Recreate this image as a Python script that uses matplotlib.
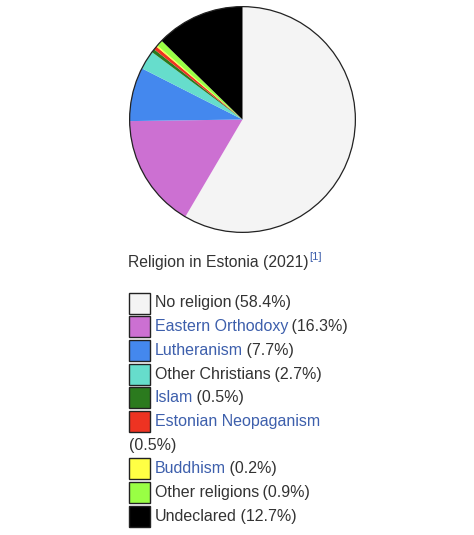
import matplotlib
matplotlib.use("Agg")
import matplotlib.pyplot as plt
from matplotlib.patches import Rectangle, Circle

labels = ["No religion", "Eastern Orthodoxy", "Lutheranism", "Other Christians",
          "Islam", "Estonian Neopaganism", "Buddhism", "Other religions", "Undeclared"]
values = [58.4, 16.3, 7.7, 2.7, 0.5, 0.5, 0.2, 0.9, 12.7]
colors = ["#f4f4f4", "#cc70d2", "#4488ee", "#66ddcc", "#2b7a1e",
          "#ee3322", "#ffff44", "#99ff44", "#000000"]
is_link = [False, True, True, False, True, True, True, False, False]
title = "Religion in Estonia (2021)"
ref = "[1]"

W, H = 474, 535
fig = plt.figure(figsize=(W / 100, H / 100), dpi=100)
fig.patch.set_facecolor("white")

# Pie
cx, cy, r = 242.5, 119.5, 114
ax = fig.add_axes([(cx - r) / W, (H - cy - r) / H, 2 * r / W, 2 * r / H])
ax.pie(values, colors=colors, startangle=90, counterclock=False, radius=1,
       wedgeprops=dict(linewidth=0))
ax.add_patch(Circle((0, 0), 1, fill=False, edgecolor="#222222", lw=0.9))
ax.set_xlim(-1.01, 1.01)
ax.set_ylim(-1.01, 1.01)
ax.axis("off")

FONT = "Liberation Sans"
FS = 11.5
TXT = "#333333"
LINK = "#3d5fac"

def fy(y):
    return 1 - y / H

renderer = fig.canvas.get_renderer()

def draw_parts(x, y, parts, size=FS, gap=-1.0):
    for s, c in parts:
        t = fig.text(x / W, fy(y), s, fontsize=size, family=FONT, color=c,
                     va="center", ha="left")
        bb = t.get_window_extent(renderer=renderer)
        x += bb.width + gap

# Title
t = fig.text(128.5 / W, fy(263), title, fontsize=11.3, family=FONT, color=TXT,
             va="center", ha="left")
bb = t.get_window_extent(renderer=renderer)
fig.text((128.5 + bb.width) / W, fy(257.5), ref, fontsize=8, family=FONT,
         color=LINK, va="center", ha="left")

# Legend
y = 303
step = 23.7
sw = 21
for lab, val, col, link in zip(labels, values, colors, is_link):
    fig.patches.append(Rectangle(((128.5) / W, fy(y + sw / 2)), sw / W, sw / H,
                                 transform=fig.transFigure, facecolor=col,
                                 edgecolor="#222222", lw=1.0))
    pct = f"({val}%)"
    if lab == "Estonian Neopaganism":
        draw_parts(155, y, [(lab, LINK if link else TXT)])
        y += step
        draw_parts(129, y, [(pct, TXT)])
    else:
        draw_parts(155, y, [(lab, LINK if link else TXT), (" " + pct, TXT)])
    y += step

fig.savefig("out.png", dpi=100, facecolor="white")
